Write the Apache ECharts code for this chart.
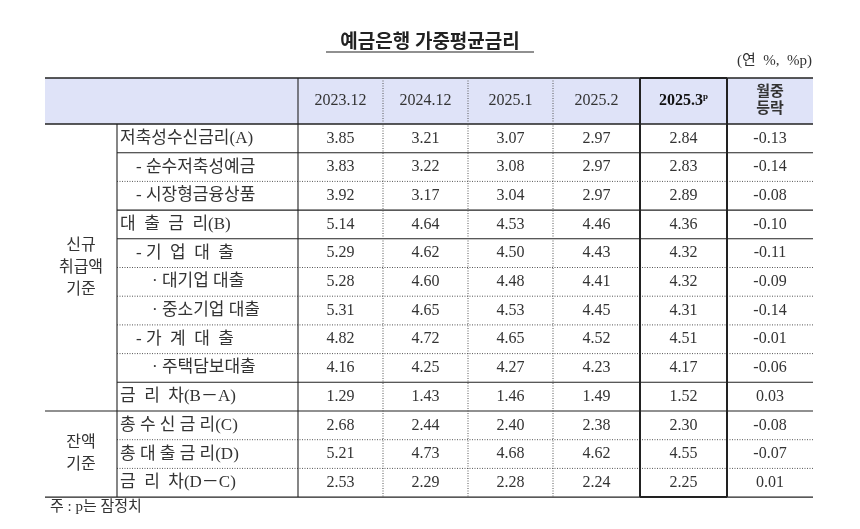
<!DOCTYPE html>
<html><head><meta charset="utf-8">
<script src="https://cdn.jsdelivr.net/npm/echarts@6/dist/echarts.min.js"></script>
<style>html,body{margin:0;background:#fff}#c{width:860px;height:529px}</style>
</head><body><div id="c"></div>
<script>
const periods = ['2023.12', '2024.12', '2025.1', '2025.2', '2025.3', '월중\n등락'];
const rowLabels = [
  '저축성수신금리(A)', '- 순수저축성예금', '- 시장형금융상품', '대  출  금  리(B)', '- 기  업  대  출',
  '· 대기업 대출', '· 중소기업 대출', '- 가  계  대  출', '· 주택담보대출', '금  리  차(B－A)',
  '총 수 신 금 리(C)', '총 대 출 금 리(D)', '금  리  차(D－C)'
];
const rowIndent = [0, 1, 1, 0, 1, 2, 2, 1, 2, 0, 0, 0, 0];
const values = [
  ['3.85', '3.21', '3.07', '2.97', '2.84', '-0.13'],
  ['3.83', '3.22', '3.08', '2.97', '2.83', '-0.14'],
  ['3.92', '3.17', '3.04', '2.97', '2.89', '-0.08'],
  ['5.14', '4.64', '4.53', '4.46', '4.36', '-0.10'],
  ['5.29', '4.62', '4.50', '4.43', '4.32', '-0.11'],
  ['5.28', '4.60', '4.48', '4.41', '4.32', '-0.09'],
  ['5.31', '4.65', '4.53', '4.45', '4.31', '-0.14'],
  ['4.82', '4.72', '4.65', '4.52', '4.51', '-0.01'],
  ['4.16', '4.25', '4.27', '4.23', '4.17', '-0.06'],
  ['1.29', '1.43', '1.46', '1.49', '1.52', '0.03'],
  ['2.68', '2.44', '2.40', '2.38', '2.30', '-0.08'],
  ['5.21', '4.73', '4.68', '4.62', '4.55', '-0.07'],
  ['2.53', '2.29', '2.28', '2.24', '2.25', '0.01']
];
const groups = [['신규\n취급액\n기준', 0, 9], ['잔액\n기준', 10, 12]];

// layout (pixels)
const colX = [45, 117, 298, 383, 468, 553, 640, 727, 813];
const headTop = 78, headBot = 124, rowH = 28.7;
const rowY = i => headBot + i * rowH;
// line style after each row: s = solid, d = dotted
const rowLine = ['s', 'd', 's', 's', 'd', 'd', 'd', 'd', 's', 's', 'd', 'd', 's'];

const serif = '"Liberation Serif", "DejaVu Serif", "Noto Sans CJK KR", serif';
const ink = '#333';

const chart = echarts.init(document.getElementById('c'));

function seg(api, x1, y1, x2, y2, w, dotted) {
  const a = api.coord([x1, y1]), b = api.coord([x2, y2]);
  return { type: 'line', shape: { x1: a[0], y1: a[1], x2: b[0], y2: b[1] },
    style: { stroke: dotted ? '#555' : '#222', lineWidth: w, lineDash: dotted ? [1, 1.5] : null } };
}

const cells = [];
values.forEach((r, i) => r.forEach((v, j) => cells.push([j, i, v])));

chart.setOption({
  animation: false,
  grid: { left: 0, right: 0, top: 0, bottom: 0 },
  xAxis: { type: 'value', min: 0, max: 860, show: false },
  yAxis: { type: 'value', min: 0, max: 529, inverse: true, show: false },
  title: {
    text: '예금은행 가중평균금리', left: 'center', top: 29,
    textStyle: { fontFamily: serif, fontSize: 19, fontWeight: 'bold', color: '#222' }
  },
  graphic: [
    { type: 'line', shape: { x1: 326, y1: 52, x2: 534, y2: 52 }, style: { stroke: '#222', lineWidth: 1.2 } },
    { type: 'text', right: 48, top: 54, style: { text: '(연  %,  %p)', font: '15px ' + serif, fill: ink } },
    { type: 'text', left: 50, top: 500, style: { text: '주 : p는 잠정치', font: '15px ' + serif, fill: ink } }
  ],
  series: [
    { // header + lines
      type: 'custom', data: [0], silent: true,
      renderItem(p, api) {
        const ch = [];
        const a = api.coord([colX[0], headTop]), b = api.coord([colX[8], headBot]);
        ch.push({ type: 'rect', shape: { x: a[0], y: a[1], width: b[0] - a[0], height: b[1] - a[1] }, style: { fill: '#dfe3f8' } });
        ch.push(seg(api, colX[0], headTop, colX[8], headTop, 1.3));
        ch.push(seg(api, colX[0], headBot, colX[8], headBot, 1.3));
        rowLine.forEach((t, i) => {
          const y = rowY(i + 1);
          const full = i === 9 || i === 12;
          ch.push(seg(api, full ? colX[0] : colX[1], y, colX[8], y, t === 's' ? 1.1 : 1, t === 'd'));
        });
        ch.push(seg(api, colX[1], headBot, colX[1], rowY(13), 1.1));
        ch.push(seg(api, colX[2], headTop, colX[2], rowY(13), 1.1));
        [3, 4, 5].forEach(k => ch.push(seg(api, colX[k], headTop, colX[k], rowY(13), 1, true)));
        ch.push(seg(api, colX[6], headTop, colX[6], rowY(13), 2));
        ch.push(seg(api, colX[7], headTop, colX[7], rowY(13), 2));
        ch.push(seg(api, colX[6], headTop, colX[7], headTop, 2));
        ch.push(seg(api, colX[6], rowY(13), colX[7], rowY(13), 2));
        periods.forEach((t, j) => {
          const c = api.coord([(colX[j + 2] + colX[j + 3]) / 2, (headTop + headBot) / 2]);
          ch.push({ type: 'text', x: c[0], y: c[1], style: j === 4 ? {
              text: '{b|2025.3}{s|p}', align: 'center', verticalAlign: 'middle',
              rich: { b: { font: 'bold 16px ' + serif, fill: '#111' }, s: { font: 'bold 9px ' + serif, fill: '#111', verticalAlign: 'top', padding: [0, 0, 8, 0] } }
            } : { text: t, align: 'center', verticalAlign: 'middle', font: (j === 5 ? 'bold 15px ' : '16px ') + serif, fill: ink, lineHeight: 17 } });
        });
        groups.forEach(g => {
          const c = api.coord([(colX[0] + colX[1]) / 2, (rowY(g[1]) + rowY(g[2] + 1)) / 2]);
          ch.push({ type: 'text', x: c[0], y: c[1], style: { text: g[0], align: 'center', verticalAlign: 'middle', font: '16px ' + serif, fill: ink, lineHeight: 22 } });
        });
        rowLabels.forEach((t, i) => {
          const c = api.coord([colX[1] + 3 + rowIndent[i] * 16, rowY(i) + rowH / 2]);
          ch.push({ type: 'text', x: c[0], y: c[1], style: { text: t, align: 'left', verticalAlign: 'middle', font: '17px ' + serif, fill: ink } });
        });
        return { type: 'group', children: ch };
      }
    },
    { // value cells
      type: 'custom', data: cells, silent: true,
      renderItem(p, api) {
        const j = api.value(0), i = api.value(1);
        const c = api.coord([(colX[j + 2] + colX[j + 3]) / 2, rowY(i) + rowH / 2]);
        return { type: 'text', x: c[0], y: c[1], style: { text: cells[p.dataIndex][2], align: 'center', verticalAlign: 'middle', font: '16px ' + serif, fill: ink } };
      }
    }
  ]
});
</script></body></html>
